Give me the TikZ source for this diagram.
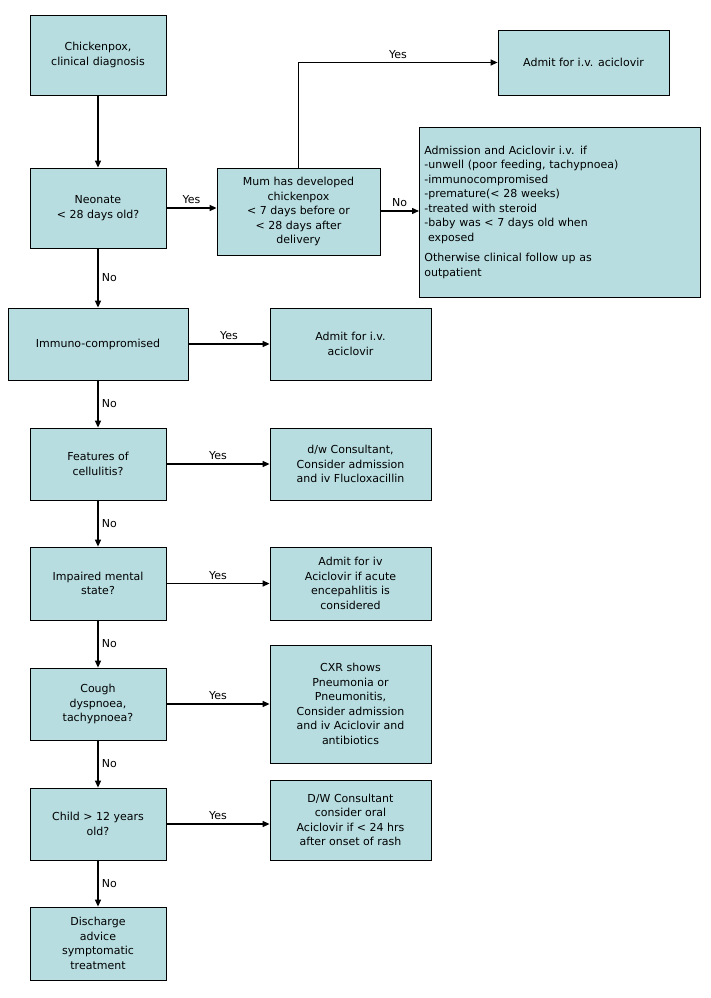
\documentclass[tikz,border=0pt]{standalone}
\usepackage{fontspec}
\setmainfont{DejaVu Sans}
\usetikzlibrary{arrows.meta}
\definecolor{boxfill}{RGB}{183,221,224}
\begin{document}
\begin{tikzpicture}[x=1pt,y=-1pt,
  box/.style={draw=black,line width=0.8pt,fill=boxfill,align=center,font=\fontsize{11}{14.5}\selectfont,inner sep=2pt},
  arr/.style={-{Triangle[length=7pt,width=6pt]},line width=1.3pt},
  lab/.style={font=\fontsize{11}{13}\selectfont}]
\useasboundingbox (0,0) rectangle (710,998);
\newcommand{\bx}[6]{\node[box,minimum width={#4-#2},minimum height={#5-#3}] (#1) at ({(#2+#4)/2},{(#3+#5)/2}) {#6};}
\bx{a}{30}{15}{166}{95}{Chickenpox,\\clinical diagnosis}
\bx{b}{30}{168}{166}{248}{Neonate\\< 28 days old?}
\bx{c}{217}{168}{380}{255}{Mum has developed\\chickenpox\\< 7 days before or\\< 28 days after\\delivery}
\bx{d}{498}{30}{669}{95}{Admit for i.v. aciclovir}
\node[box,minimum width=281,minimum height=170,align=left,anchor=north west,text width=271,inner sep=4pt] (e) at (419,127) {Admission and Aciclovir i.v. if\\-unwell (poor feeding, tachypnoea)\\-immunocompromised\\-premature(< 28 weeks)\\-treated with steroid\\-baby was < 7 days old when\\\ exposed\\[6pt]Otherwise clinical follow up as\\outpatient};
\bx{f}{8}{308}{188}{380}{Immuno-compromised}
\bx{g}{270}{308}{431}{380}{Admit for i.v.\\aciclovir}
\bx{h}{30}{428}{166}{500}{Features of\\cellulitis?}
\bx{i}{270}{428}{431}{500}{d/w Consultant,\\Consider admission\\and iv Flucloxacillin}
\bx{j}{30}{547}{166}{620}{Impaired mental\\state?}
\bx{k}{270}{547}{431}{620}{Admit for iv\\Aciclovir if acute\\encepahlitis is\\considered}
\bx{l}{30}{668}{166}{740}{Cough\\dyspnoea,\\tachypnoea?}
\bx{m}{270}{645}{431}{763}{CXR shows\\Pneumonia or\\Pneumonitis,\\Consider admission\\and iv Aciclovir and\\antibiotics}
\bx{n}{30}{788}{166}{860}{Child > 12 years\\old?}
\bx{o}{270}{780}{431}{860}{D/W Consultant\\consider oral\\Aciclovir if < 24 hrs\\after onset of rash}
\bx{p}{30}{907}{166}{980}{Discharge\\advice\\symptomatic\\treatment}
\draw[arr] (a) -- (b);
\draw[arr] (b.east|-0,208) -- (c.west|-0,208) node[lab,midway,above] {Yes};
\draw[arr] (c.north) |- (d.west) node[lab,pos=0.75,above] {Yes};
\draw[arr] (c.east|-0,211) -- (e.west|-0,211) node[lab,midway,above] {No};
\draw[arr] (b) -- (f) node[lab,midway,right] {No};
\draw[arr] (f) -- (g) node[lab,midway,above] {Yes};
\draw[arr] (f) -- (h) node[lab,midway,right] {No};
\draw[arr] (h) -- (i) node[lab,midway,above] {Yes};
\draw[arr] (h) -- (j) node[lab,midway,right] {No};
\draw[arr] (j) -- (k) node[lab,midway,above] {Yes};
\draw[arr] (j) -- (l) node[lab,midway,right] {No};
\draw[arr] (l) -- (m.west|-l) node[lab,midway,above] {Yes};
\draw[arr] (l) -- (n) node[lab,midway,right] {No};
\draw[arr] (n) -- (o.west|-n) node[lab,midway,above] {Yes};
\draw[arr] (n) -- (p) node[lab,midway,right] {No};
\end{tikzpicture}
\end{document}
